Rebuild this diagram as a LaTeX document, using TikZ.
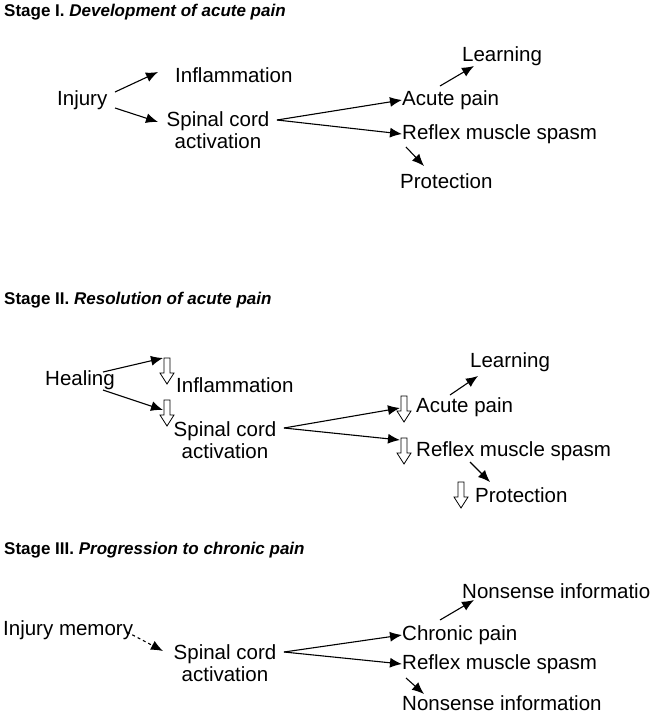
\documentclass[tikz,border=0pt]{standalone}
\usepackage{fontspec}
\setmainfont{Liberation Sans}
\usetikzlibrary{arrows.meta}
\tikzset{
  txt/.style={inner sep=0pt, anchor=west, font=\fontsize{20.5}{22}\selectfont},
  ctr/.style={inner sep=0pt, align=center, font=\fontsize{20.5}{22}\selectfont},
  ttl/.style={inner sep=0pt, anchor=west, font=\bfseries\fontsize{17}{19}\selectfont},
  arr/.style={-{Latex[length=12pt,width=10pt]}, line width=1.1pt},
  dsh/.style={arr, dashed},
  pics/down/.style={code={
    \draw[line width=0.8pt, fill=white] (-3,0) -- (3,0) -- (3,15) -- (7,15) -- (0,26) -- (-7,15) -- (-3,15) -- cycle;}}
}
\begin{document}
\begin{tikzpicture}[x=1pt,y=-1pt]
\useasboundingbox (0,0) rectangle (650,716);
% Stage I
\node[ttl] (t1) at (4,12) {Stage I. \textit{Development of acute pain}};
\node[txt] (inj) at (57,100) {Injury};
\node[txt] (inf) at (175,75) {Inflammation};
\node[ctr] (sc) at (218,130) {Spinal cord\\activation};
\node[txt] (ap) at (402,100) {Acute pain};
\node[txt] (le) at (462,56) {Learning};
\node[txt] (rm) at (402,134) {Reflex muscle spasm};
\node[txt] (pr) at (400,181) {Protection};
\coordinate (sc1) at (277,120);
\draw[arr] (115,92) -- (158,72);
\draw[arr] (115,108) -- (158,122);
\draw[arr] (sc1) -- (ap.west);
\draw[arr] (sc1) -- (rm.west);
\draw[arr] (440,86) -- (474,66);
\draw[arr] (406,147) -- (424,166);
% Stage II
\node[ttl] (t2) at (4,300) {Stage II. \textit{Resolution of acute pain}};
\node[txt] (he) at (45,380) {Healing};
\node[txt] (inf2) at (176,385) {Inflammation};
\node[ctr] (sc2) at (225,440) {Spinal cord\\activation};
\node[txt] (ap2) at (416,407) {Acute pain};
\node[txt] (le2) at (470,362) {Learning};
\node[txt] (rm2) at (416,451) {Reflex muscle spasm};
\node[txt] (pr2) at (475,495) {Protection};
\pic at (167,358) {down};
\pic at (167,400) {down};
\pic at (404,396) {down};
\pic at (404,438) {down};
\pic at (461,482) {down};
\coordinate (sc2a) at (284,428);
\draw[arr] (103,372) -- (163,358);
\draw[arr] (103,390) -- (163,410);
\draw[arr] (sc2a) -- (400,408);
\draw[arr] (sc2a) -- (400,440);
\draw[arr] (450,395) -- (478,376);
\draw[arr] (470,462) -- (490,482);
% Stage III
\node[ttl] (t3) at (4,550) {Stage III. \textit{Progression to chronic pain}};
\node[txt] (im) at (3,630) {Injury memory};
\node[ctr] (sc3) at (225,663) {Spinal cord\\activation};
\node[txt] (cp) at (402,635) {Chronic pain};
\node[txt] (ni1) at (462,591) {Nonsense information};
\node[txt] (rm3) at (402,664) {Reflex muscle spasm};
\node[txt] (ni2) at (402,703) {Nonsense information};
\coordinate (sc3a) at (284,652);
\draw[dsh] (127,632) -- (163,651);
\draw[arr] (sc3a) -- (cp.west);
\draw[arr] (sc3a) -- (rm3.west);
\draw[arr] (440,620) -- (474,600);
\draw[arr] (406,678) -- (424,694);
\end{tikzpicture}
\end{document}
